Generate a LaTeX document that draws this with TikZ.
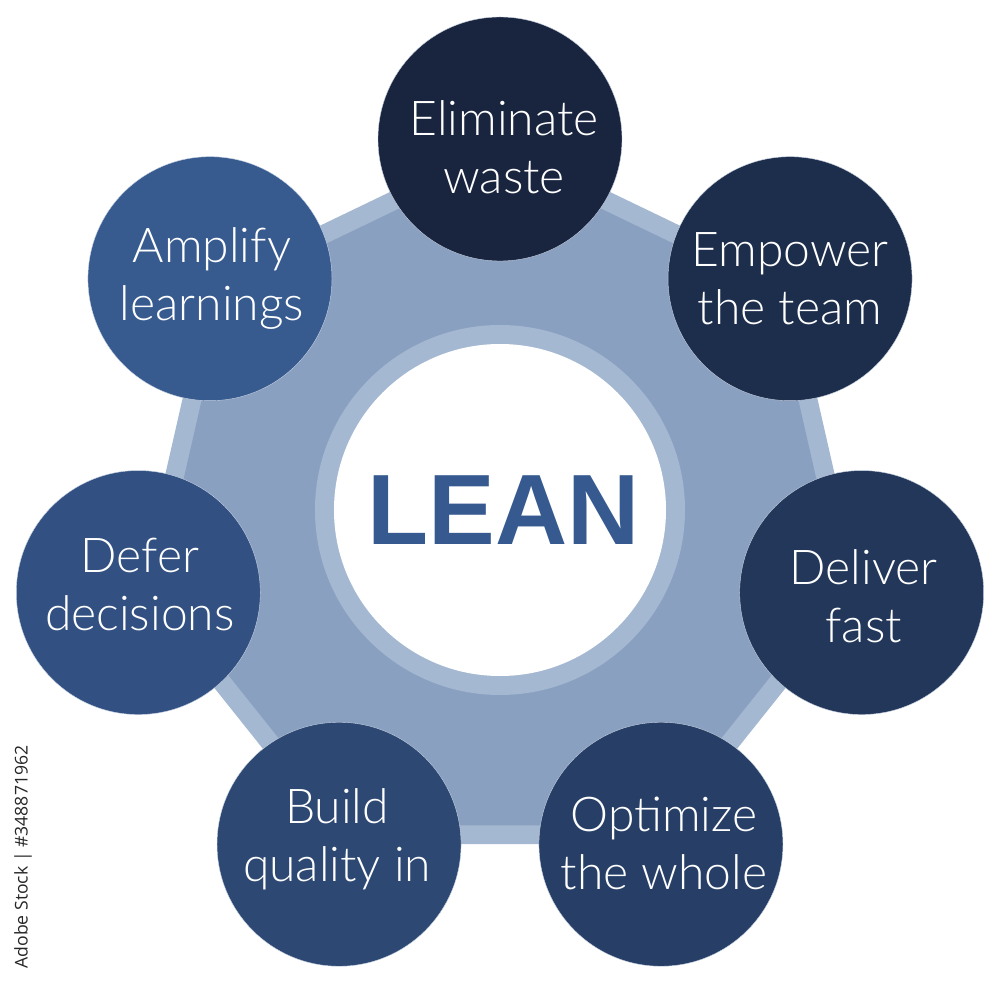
\documentclass[tikz,border=0pt]{standalone}
\usepackage{fontspec}
\setmainfont{Lato Light}
\newfontfamily\boldfont{Liberation Sans Bold}
\newfontfamily\sidefont{Open Sans}
\usetikzlibrary{shapes.geometric}
\definecolor{bandblue}{HTML}{A5B8D2}
\definecolor{hepblue}{HTML}{8AA0C0}
\definecolor{leanblue}{HTML}{365A90}
\definecolor{c1}{HTML}{19253F}
\definecolor{c2}{HTML}{1D2E4D}
\definecolor{c3}{HTML}{223759}
\definecolor{c4}{HTML}{273F66}
\definecolor{c5}{HTML}{2D4872}
\definecolor{c6}{HTML}{325182}
\definecolor{c7}{HTML}{375A8F}
\tikzset{
    hep/.style={regular polygon, regular polygon sides=7, inner sep=0pt, outer sep=0pt},
    step circle/.style={circle, minimum size=244pt, inner sep=0pt, outer sep=0pt, draw=bandblue!60, line width=.4pt},
    step text/.style={text=white, align=center, font=\fontsize{48}{58}\selectfont}
}
\begin{document}
\begin{tikzpicture}[x=1pt,y=1pt]
    \useasboundingbox (-500,-472) rectangle (500,510);
    \node[hep, fill=bandblue, minimum size=742pt] (outer) at (0,0) {};
    \node[hep, fill=hepblue, minimum size=700pt] (inner) at (0,0) {};
    \node[circle, fill=bandblue, minimum size=370pt, inner sep=0pt] (ring) at (0,0) {};
    \node[circle, fill=white, minimum size=332pt, inner sep=0pt] (hub) at (0,0) {};
    \node[text=leanblue, font=\boldfont\fontsize{100}{100}\selectfont] (lean) at (3.5,0) {LEAN};

    \foreach [count=\k] \t/\dx/\dy in {Eliminate\\waste/4/-8.5,Empower\\the team/0/0,Deliver\\fast/2/-4,Optimize\\the whole/3/1,Build\\quality in/-2/5,Defer\\decisions/1.5/8,Amplify\\learnings/2/0}
        \node[step circle, fill=c\k, label={[step text, xshift=\dx, yshift=\dy]center:{\t}}] (p\k) at ({90 - 360/7 * (\k - 1)}:371) {};

    \node[rotate=90, text=black!85, font=\sidefont\fontsize{17.6}{17.6}\selectfont] (stock) at (-477,-347) {Adobe Stock | \#348871962};
\end{tikzpicture}
\end{document}
